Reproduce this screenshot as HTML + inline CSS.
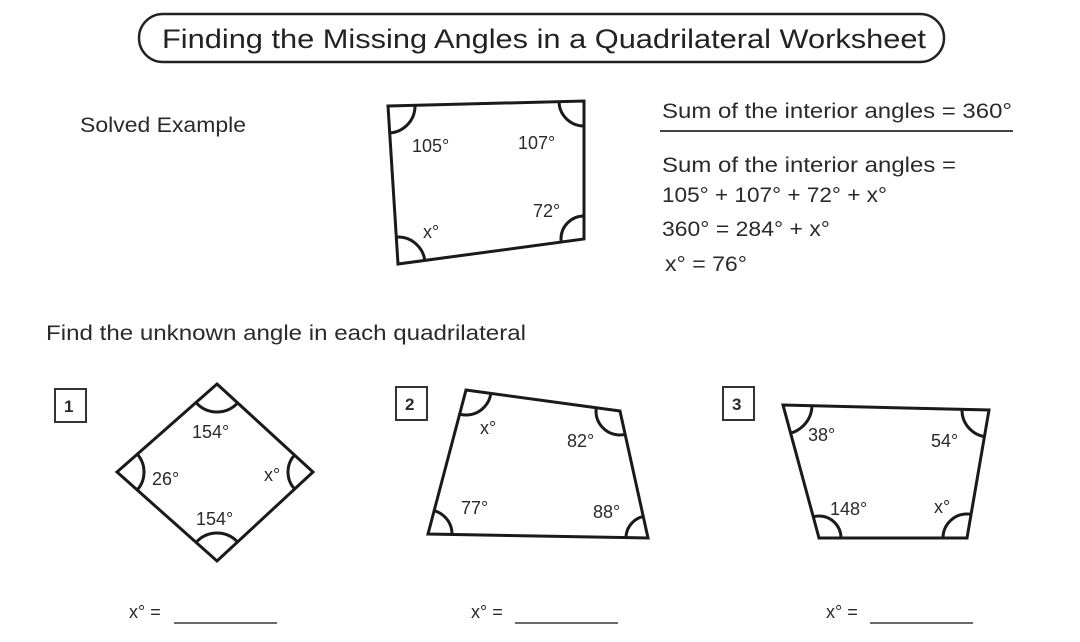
<!DOCTYPE html>
<html><head><meta charset="utf-8"><style>
html,body{margin:0;padding:0;background:#fff;}
svg{display:block;font-family:"Liberation Sans",sans-serif;}
text{fill:#2a2a2a;}
</style></head><body>
<svg width="1080" height="642" viewBox="0 0 1080 642" xmlns="http://www.w3.org/2000/svg">
<defs>
<clipPath id="c0"><polygon points="388,106 584,101 584,239 398,264"/></clipPath>
<clipPath id="c1"><polygon points="217,384 313,472 217,561 117,472"/></clipPath>
<clipPath id="c2"><polygon points="466,390 620,411 648,538 428,534"/></clipPath>
<clipPath id="c3"><polygon points="783,405 989,410 967,538 819,538"/></clipPath>
</defs>
<rect x="139" y="14" width="805" height="48" rx="24" ry="24" fill="none" stroke="#222" stroke-width="2.5"/>
<text x="162" y="48" font-size="27" textLength="764" lengthAdjust="spacingAndGlyphs" style="fill:#222">Finding the Missing Angles in a  Quadrilateral Worksheet</text>

<text x="80" y="132" font-size="21" textLength="166" lengthAdjust="spacingAndGlyphs">Solved Example</text>

<g fill="none" stroke="#1a1a1a" stroke-width="3">
<polygon points="388,106 584,101 584,239 398,264"/>
<g clip-path="url(#c0)">
<circle cx="388" cy="106" r="27"/><circle cx="584" cy="101" r="25"/>
<circle cx="584" cy="239" r="23"/><circle cx="398" cy="264" r="27"/>
</g></g>
<g font-size="18">
<text x="412" y="152">105°</text><text x="518" y="149">107°</text>
<text x="533" y="217">72°</text><text x="423" y="238">x°</text>
</g>

<g font-size="21">
<text x="662" y="118" textLength="350" lengthAdjust="spacingAndGlyphs">Sum of the interior angles = 360°</text>
<line x1="660" y1="131" x2="1013" y2="131" stroke="#444" stroke-width="2"/>
<text x="662" y="172" textLength="294" lengthAdjust="spacingAndGlyphs">Sum of the interior angles =</text>
<text x="662" y="202" textLength="225" lengthAdjust="spacingAndGlyphs">105° + 107° + 72° + x°</text>
<text x="662" y="236" textLength="168" lengthAdjust="spacingAndGlyphs">360° = 284° + x°</text>
<text x="665" y="271" textLength="82" lengthAdjust="spacingAndGlyphs">x° = 76°</text>
</g>

<text x="46" y="340" font-size="21" textLength="480" lengthAdjust="spacingAndGlyphs">Find the unknown angle in each quadrilateral</text>

<g fill="none" stroke="#333" stroke-width="2">
<rect x="55" y="389" width="31" height="33"/><rect x="396" y="387" width="31" height="33"/><rect x="723" y="387" width="31" height="33"/>
</g>
<g font-size="17" font-weight="bold">
<text x="64" y="412">1</text><text x="405" y="410">2</text><text x="732" y="410">3</text>
</g>

<g fill="none" stroke="#1a1a1a" stroke-width="3">
<polygon points="217,384 313,472 217,561 117,472"/>
<g clip-path="url(#c1)">
<circle cx="217" cy="384" r="28"/><circle cx="313" cy="472" r="25"/>
<circle cx="217" cy="561" r="28"/><circle cx="117" cy="472" r="27"/>
</g></g>
<g font-size="18">
<text x="192" y="438">154°</text><text x="152" y="485">26°</text>
<text x="264" y="481">x°</text><text x="196" y="525">154°</text>
</g>

<g fill="none" stroke="#1a1a1a" stroke-width="3">
<polygon points="466,390 620,411 648,538 428,534"/>
<g clip-path="url(#c2)">
<circle cx="466" cy="390" r="25"/><circle cx="620" cy="411" r="24"/>
<circle cx="648" cy="538" r="22"/><circle cx="428" cy="534" r="24"/>
</g></g>
<g font-size="18">
<text x="480" y="434">x°</text><text x="567" y="447">82°</text>
<text x="461" y="514">77°</text><text x="593" y="518">88°</text>
</g>

<g fill="none" stroke="#1a1a1a" stroke-width="3">
<polygon points="783,405 989,410 967,538 819,538"/>
<g clip-path="url(#c3)">
<circle cx="783" cy="405" r="29"/><circle cx="989" cy="410" r="27"/>
<circle cx="967" cy="538" r="24"/><circle cx="819" cy="538" r="22"/>
</g></g>
<g font-size="18">
<text x="808" y="441">38°</text><text x="931" y="447">54°</text>
<text x="830" y="515">148°</text><text x="934" y="513">x°</text>
</g>

<g font-size="18">
<text x="129" y="618">x° =</text><text x="471" y="618">x° =</text><text x="826" y="618">x° =</text>
</g>
<g stroke="#555" stroke-width="1.8">
<line x1="174" y1="623" x2="277" y2="623"/><line x1="515" y1="623" x2="618" y2="623"/><line x1="870" y1="623" x2="973" y2="623"/>
</g>
</svg>
</body></html>
